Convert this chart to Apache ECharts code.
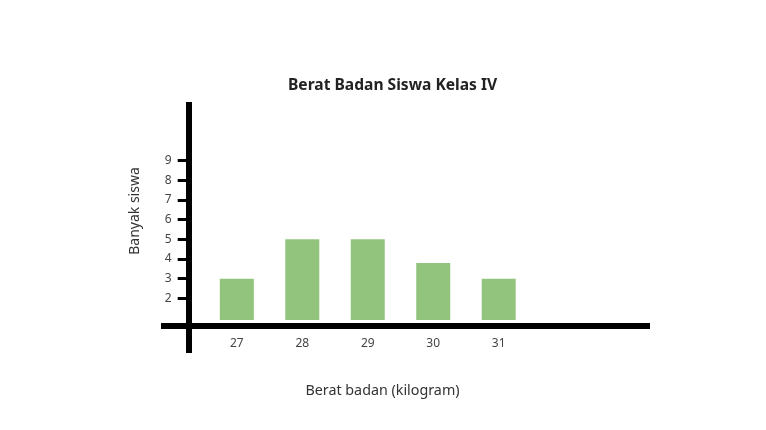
<!DOCTYPE html>
<html>
	<head>
		<meta charset="utf-8" />
		<title>Berat Badan Siswa Kelas IV</title>
		<script type="text/javascript" src="https://cdn.jsdelivr.net/npm/echarts@6/dist/echarts.min.js"></script>
	</head>
	<body style="margin:0;background:#fff;">
		<div id="chart" style="width:766px;height:430px;"></div>
	</body>
	<script>
	// data
	var beratBadan = [27, 28, 29, 30, 31];
	var banyakSiswa = [3, 5, 5, 3.8, 3];
	var yTicks = [2, 3, 4, 5, 6, 7, 8, 9];

	var font = 'Noto Sans';
	var pairs = beratBadan.map(function (b, i) { return [b, banyakSiswa[i]]; });

	var myChart = echarts.init(document.getElementById('chart'), null, { renderer: 'canvas' });

	var option = {
		textStyle: { fontFamily: font },
		title: {
			text: 'Berat Badan Siswa Kelas IV',
			left: 283,
			top: 73,
			textStyle: { fontFamily: font, fontSize: 15.6, fontWeight: 'bold', color: '#222' }
		},
		grid: [
			// bars
			{ left: 161, right: 116, top: 102, bottom: 110 },
			// only carries the y axis line down past the x axis
			{ left: 161, right: 116, top: 102, bottom: 77 }
		],
		xAxis: [
			{
				type: 'value',
				gridIndex: 0,
				min: 25.842,
				max: 33.311,
				offset: 5.5,
				splitLine: { show: false },
				axisTick: { show: false },
				axisLine: { show: true, lineStyle: { color: '#000', width: 6, cap: 'butt' } },
				axisLabel: {
					customValues: beratBadan,
					margin: 12,
					fontSize: 12,
					color: '#444',
					fontFamily: font
				},
				name: 'Berat badan (kilogram)',
				nameLocation: 'middle',
				nameGap: 58,
				nameTextStyle: { fontSize: 14.3, color: '#333', fontFamily: font, padding: [0, 46, 0, 0] }
			},
			{
				type: 'value',
				gridIndex: 1,
				show: false
			}
		],
		yAxis: [
			{
				type: 'value',
				gridIndex: 0,
				min: 0.897,
				max: 11.986,
				offset: -27.7,
				splitLine: { show: false },
				axisLine: { show: true, lineStyle: { color: '#000', width: 6, cap: 'butt' } },
				axisTick: {
					show: true,
					customValues: yTicks,
					length: 11,
					lineStyle: { color: '#000', width: 3 }
				},
				axisLabel: {
					customValues: yTicks,
					margin: 17,
					fontSize: 12,
					color: '#444',
					fontFamily: font
				},
				name: 'Banyak siswa',
				nameLocation: 'middle',
				nameGap: 47,
				nameTextStyle: { fontSize: 14, color: '#333', fontFamily: font }
			},
			{
				type: 'value',
				gridIndex: 1,
				offset: -27.7,
				splitLine: { show: false },
				axisTick: { show: false },
				axisLabel: { show: false },
				axisLine: { show: true, lineStyle: { color: '#000', width: 6, cap: 'butt' } }
			}
		],
		series: [
			{
				name: 'Banyak siswa',
				type: 'bar',
				xAxisIndex: 0,
				yAxisIndex: 0,
				barWidth: 34,
				data: pairs,
				itemStyle: { color: '#93c47d' }
			}
		]
	};
	myChart.setOption(option);
	window.addEventListener('resize', myChart.resize);
	</script>
</html>
